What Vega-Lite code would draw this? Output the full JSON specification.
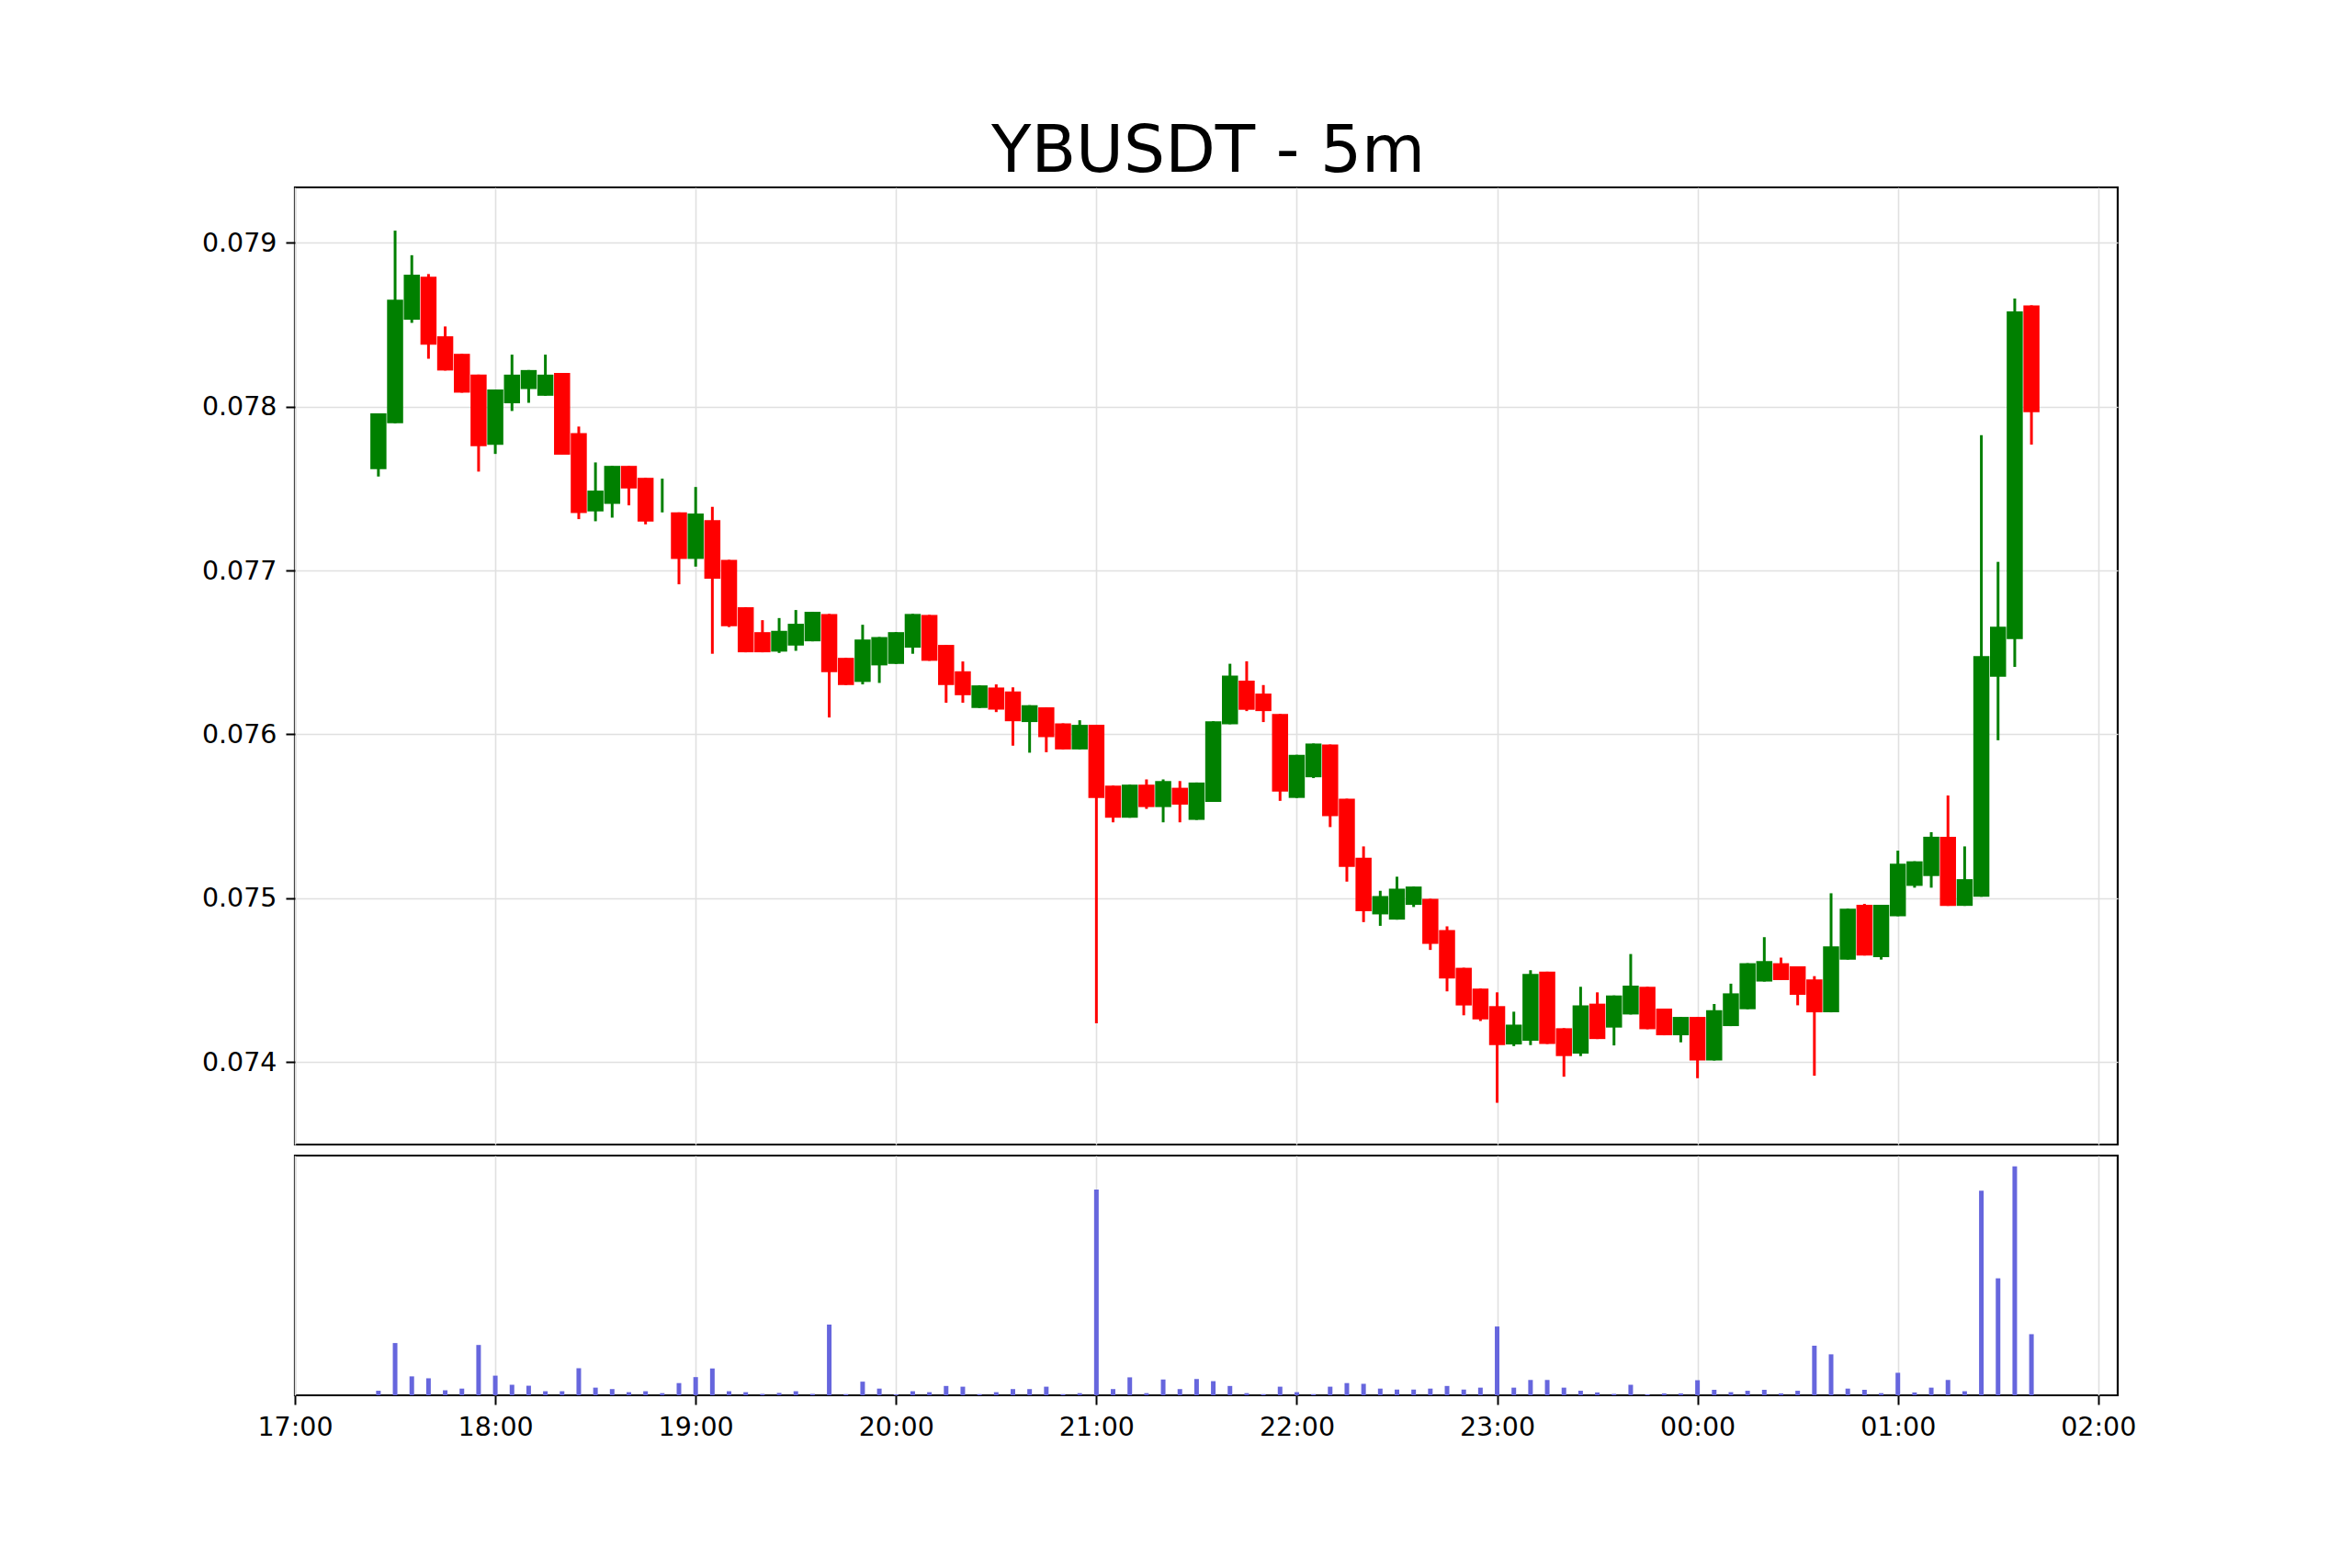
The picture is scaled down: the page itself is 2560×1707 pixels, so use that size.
{
  "$schema": "https://vega.github.io/schema/vega-lite/v6.json",
  "description": "YBUSDT 5m candlesticks with volume panel",
  "padding": {"left": 218, "top": 129, "right": 10, "bottom": 10},
  "title": {
    "text": "YBUSDT - 5m",
    "font": "DejaVu Sans",
    "fontSize": 71,
    "fontWeight": "normal",
    "color": "black",
    "anchor": "middle",
    "offset": 1,
    "dx": 43
  },
  "data": {
    "values": [
      {"t": "2023-01-01T17:25", "o": 0.077619, "h": 0.077959, "l": 0.077574, "c": 0.077959, "v": 1.9},
      {"t": "2023-01-01T17:30", "o": 0.077899, "h": 0.079075, "l": 0.077899, "c": 0.078654, "v": 21.8},
      {"t": "2023-01-01T17:35", "o": 0.078531, "h": 0.078925, "l": 0.078512, "c": 0.078806, "v": 7.9},
      {"t": "2023-01-01T17:40", "o": 0.078794, "h": 0.07881, "l": 0.078293, "c": 0.078379, "v": 7.1},
      {"t": "2023-01-01T17:45", "o": 0.07843, "h": 0.07849, "l": 0.078221, "c": 0.078221, "v": 2.1},
      {"t": "2023-01-01T17:50", "o": 0.078323, "h": 0.078323, "l": 0.078086, "c": 0.078086, "v": 2.8},
      {"t": "2023-01-01T17:55", "o": 0.078196, "h": 0.078196, "l": 0.077604, "c": 0.077759, "v": 21.0},
      {"t": "2023-01-01T18:00", "o": 0.077768, "h": 0.078105, "l": 0.077712, "c": 0.078105, "v": 8.2},
      {"t": "2023-01-01T18:05", "o": 0.078021, "h": 0.078318, "l": 0.077974, "c": 0.078196, "v": 4.4},
      {"t": "2023-01-01T18:10", "o": 0.078108, "h": 0.078224, "l": 0.078024, "c": 0.078224, "v": 4.0},
      {"t": "2023-01-01T18:15", "o": 0.078067, "h": 0.078318, "l": 0.078067, "c": 0.078196, "v": 1.7},
      {"t": "2023-01-01T18:20", "o": 0.078206, "h": 0.078206, "l": 0.077707, "c": 0.077707, "v": 1.7},
      {"t": "2023-01-01T18:25", "o": 0.077839, "h": 0.077879, "l": 0.077314, "c": 0.077351, "v": 11.3},
      {"t": "2023-01-01T18:30", "o": 0.077361, "h": 0.07766, "l": 0.077301, "c": 0.077488, "v": 3.2},
      {"t": "2023-01-01T18:35", "o": 0.077407, "h": 0.077639, "l": 0.077323, "c": 0.077639, "v": 2.6},
      {"t": "2023-01-01T18:40", "o": 0.077639, "h": 0.077639, "l": 0.077398, "c": 0.077501, "v": 1.3},
      {"t": "2023-01-01T18:45", "o": 0.077566, "h": 0.077566, "l": 0.077282, "c": 0.077299, "v": 1.7},
      {"t": "2023-01-01T18:50", "o": 0.07736, "h": 0.077561, "l": 0.077355, "c": 0.07736, "v": 0.9},
      {"t": "2023-01-01T18:55", "o": 0.077355, "h": 0.077355, "l": 0.076916, "c": 0.077071, "v": 5.1},
      {"t": "2023-01-01T19:00", "o": 0.077071, "h": 0.07751, "l": 0.077024, "c": 0.077348, "v": 7.6},
      {"t": "2023-01-01T19:05", "o": 0.077308, "h": 0.077389, "l": 0.076492, "c": 0.07695, "v": 11.2},
      {"t": "2023-01-01T19:10", "o": 0.077065, "h": 0.077065, "l": 0.076655, "c": 0.07666, "v": 1.7},
      {"t": "2023-01-01T19:15", "o": 0.076776, "h": 0.076776, "l": 0.076501, "c": 0.076501, "v": 1.3},
      {"t": "2023-01-01T19:20", "o": 0.076624, "h": 0.076697, "l": 0.076501, "c": 0.076501, "v": 0.6},
      {"t": "2023-01-01T19:25", "o": 0.076505, "h": 0.07671, "l": 0.076497, "c": 0.076632, "v": 1.0},
      {"t": "2023-01-01T19:30", "o": 0.076542, "h": 0.076759, "l": 0.07651, "c": 0.076675, "v": 1.7},
      {"t": "2023-01-01T19:35", "o": 0.076568, "h": 0.076748, "l": 0.076568, "c": 0.076748, "v": 0.6},
      {"t": "2023-01-01T19:40", "o": 0.076735, "h": 0.076735, "l": 0.076103, "c": 0.076379, "v": 29.5},
      {"t": "2023-01-01T19:45", "o": 0.076467, "h": 0.076467, "l": 0.076301, "c": 0.076301, "v": 0.5},
      {"t": "2023-01-01T19:50", "o": 0.07632, "h": 0.076669, "l": 0.076305, "c": 0.076579, "v": 5.7},
      {"t": "2023-01-01T19:55", "o": 0.076421, "h": 0.076594, "l": 0.076314, "c": 0.076594, "v": 2.8},
      {"t": "2023-01-01T20:00", "o": 0.07643, "h": 0.076624, "l": 0.07643, "c": 0.076624, "v": 0.4},
      {"t": "2023-01-01T20:05", "o": 0.076529, "h": 0.076735, "l": 0.076492, "c": 0.076735, "v": 1.7},
      {"t": "2023-01-01T20:10", "o": 0.076729, "h": 0.076729, "l": 0.076449, "c": 0.076449, "v": 1.3},
      {"t": "2023-01-01T20:15", "o": 0.076546, "h": 0.076546, "l": 0.076193, "c": 0.076301, "v": 3.9},
      {"t": "2023-01-01T20:20", "o": 0.076385, "h": 0.076445, "l": 0.076193, "c": 0.076239, "v": 3.6},
      {"t": "2023-01-01T20:25", "o": 0.076161, "h": 0.076299, "l": 0.076161, "c": 0.076299, "v": 0.5},
      {"t": "2023-01-01T20:30", "o": 0.076286, "h": 0.076305, "l": 0.076136, "c": 0.076151, "v": 1.3},
      {"t": "2023-01-01T20:35", "o": 0.076262, "h": 0.076287, "l": 0.075931, "c": 0.07608, "v": 2.6},
      {"t": "2023-01-01T20:40", "o": 0.076075, "h": 0.076178, "l": 0.075888, "c": 0.076178, "v": 2.6},
      {"t": "2023-01-01T20:45", "o": 0.076165, "h": 0.076165, "l": 0.075891, "c": 0.075983, "v": 3.6},
      {"t": "2023-01-01T20:50", "o": 0.076067, "h": 0.076067, "l": 0.075908, "c": 0.075908, "v": 0.5},
      {"t": "2023-01-01T20:55", "o": 0.075908, "h": 0.076086, "l": 0.075908, "c": 0.076058, "v": 0.9},
      {"t": "2023-01-01T21:00", "o": 0.076058, "h": 0.076058, "l": 0.074236, "c": 0.075612, "v": 85.8},
      {"t": "2023-01-01T21:05", "o": 0.075687, "h": 0.075687, "l": 0.075463, "c": 0.075491, "v": 2.6},
      {"t": "2023-01-01T21:10", "o": 0.075491, "h": 0.075693, "l": 0.075491, "c": 0.075693, "v": 7.5},
      {"t": "2023-01-01T21:15", "o": 0.075693, "h": 0.075725, "l": 0.075545, "c": 0.075556, "v": 0.9},
      {"t": "2023-01-01T21:20", "o": 0.075556, "h": 0.075725, "l": 0.075463, "c": 0.075715, "v": 6.6},
      {"t": "2023-01-01T21:25", "o": 0.075674, "h": 0.075715, "l": 0.075463, "c": 0.075571, "v": 2.6},
      {"t": "2023-01-01T21:30", "o": 0.075478, "h": 0.075706, "l": 0.075478, "c": 0.075706, "v": 6.8},
      {"t": "2023-01-01T21:35", "o": 0.075588, "h": 0.07608, "l": 0.075588, "c": 0.07608, "v": 5.9},
      {"t": "2023-01-01T21:40", "o": 0.076062, "h": 0.076431, "l": 0.076062, "c": 0.076358, "v": 3.9},
      {"t": "2023-01-01T21:45", "o": 0.076328, "h": 0.076446, "l": 0.076142, "c": 0.07615, "v": 0.9},
      {"t": "2023-01-01T21:50", "o": 0.076249, "h": 0.076301, "l": 0.076075, "c": 0.076142, "v": 0.5},
      {"t": "2023-01-01T21:55", "o": 0.076124, "h": 0.076124, "l": 0.075594, "c": 0.07565, "v": 3.6},
      {"t": "2023-01-01T22:00", "o": 0.075612, "h": 0.075875, "l": 0.075612, "c": 0.075875, "v": 1.3},
      {"t": "2023-01-01T22:05", "o": 0.075738, "h": 0.075944, "l": 0.075733, "c": 0.075944, "v": 0.5},
      {"t": "2023-01-01T22:10", "o": 0.075938, "h": 0.075938, "l": 0.075434, "c": 0.0755, "v": 3.6},
      {"t": "2023-01-01T22:15", "o": 0.075607, "h": 0.075607, "l": 0.075101, "c": 0.075191, "v": 5.1},
      {"t": "2023-01-01T22:20", "o": 0.075247, "h": 0.075316, "l": 0.074854, "c": 0.07492, "v": 4.8},
      {"t": "2023-01-01T22:25", "o": 0.074901, "h": 0.075045, "l": 0.074831, "c": 0.075013, "v": 2.8},
      {"t": "2023-01-01T22:30", "o": 0.074869, "h": 0.075131, "l": 0.074869, "c": 0.075058, "v": 2.4},
      {"t": "2023-01-01T22:35", "o": 0.074959, "h": 0.075071, "l": 0.074946, "c": 0.075071, "v": 2.4},
      {"t": "2023-01-01T22:40", "o": 0.074996, "h": 0.074996, "l": 0.074684, "c": 0.074721, "v": 2.8},
      {"t": "2023-01-01T22:45", "o": 0.074805, "h": 0.074828, "l": 0.074431, "c": 0.074509, "v": 3.9},
      {"t": "2023-01-01T22:50", "o": 0.074575, "h": 0.074575, "l": 0.074285, "c": 0.074345, "v": 2.4},
      {"t": "2023-01-01T22:55", "o": 0.074448, "h": 0.074448, "l": 0.07425, "c": 0.07426, "v": 3.2},
      {"t": "2023-01-01T23:00", "o": 0.074341, "h": 0.074425, "l": 0.073751, "c": 0.074103, "v": 28.7},
      {"t": "2023-01-01T23:05", "o": 0.074107, "h": 0.074307, "l": 0.074097, "c": 0.074228, "v": 3.2},
      {"t": "2023-01-01T23:10", "o": 0.074129, "h": 0.07456, "l": 0.074103, "c": 0.074537, "v": 6.4},
      {"t": "2023-01-01T23:15", "o": 0.074551, "h": 0.074551, "l": 0.07411, "c": 0.07411, "v": 6.4},
      {"t": "2023-01-01T23:20", "o": 0.074206, "h": 0.074206, "l": 0.07391, "c": 0.074036, "v": 3.2},
      {"t": "2023-01-01T23:25", "o": 0.074051, "h": 0.074459, "l": 0.074036, "c": 0.074346, "v": 1.9},
      {"t": "2023-01-01T23:30", "o": 0.074356, "h": 0.074425, "l": 0.07414, "c": 0.07414, "v": 1.2},
      {"t": "2023-01-01T23:35", "o": 0.07421, "h": 0.074406, "l": 0.074101, "c": 0.074406, "v": 0.6},
      {"t": "2023-01-01T23:40", "o": 0.07429, "h": 0.074659, "l": 0.07429, "c": 0.074466, "v": 4.4},
      {"t": "2023-01-01T23:45", "o": 0.074459, "h": 0.074459, "l": 0.0742, "c": 0.0742, "v": 0.4},
      {"t": "2023-01-01T23:50", "o": 0.074326, "h": 0.074326, "l": 0.074163, "c": 0.074163, "v": 0.8},
      {"t": "2023-01-01T23:55", "o": 0.074163, "h": 0.074275, "l": 0.07412, "c": 0.074275, "v": 0.8},
      {"t": "2023-01-02T00:00", "o": 0.074275, "h": 0.074275, "l": 0.073901, "c": 0.074009, "v": 6.3},
      {"t": "2023-01-02T00:05", "o": 0.074009, "h": 0.074354, "l": 0.074009, "c": 0.074316, "v": 2.3},
      {"t": "2023-01-02T00:10", "o": 0.074219, "h": 0.074478, "l": 0.074219, "c": 0.074419, "v": 1.3},
      {"t": "2023-01-02T00:15", "o": 0.074322, "h": 0.074603, "l": 0.074322, "c": 0.074603, "v": 1.9},
      {"t": "2023-01-02T00:20", "o": 0.074491, "h": 0.074762, "l": 0.074491, "c": 0.074616, "v": 2.3},
      {"t": "2023-01-02T00:25", "o": 0.074603, "h": 0.074637, "l": 0.0745, "c": 0.0745, "v": 0.8},
      {"t": "2023-01-02T00:30", "o": 0.074584, "h": 0.074584, "l": 0.074346, "c": 0.07441, "v": 1.9},
      {"t": "2023-01-02T00:35", "o": 0.074504, "h": 0.074524, "l": 0.073916, "c": 0.074303, "v": 20.7},
      {"t": "2023-01-02T00:40", "o": 0.074303, "h": 0.07503, "l": 0.074303, "c": 0.074706, "v": 17.1},
      {"t": "2023-01-02T00:45", "o": 0.074625, "h": 0.074936, "l": 0.074625, "c": 0.074936, "v": 2.8},
      {"t": "2023-01-02T00:50", "o": 0.074959, "h": 0.074965, "l": 0.07465, "c": 0.07465, "v": 2.3},
      {"t": "2023-01-02T00:55", "o": 0.07464, "h": 0.074959, "l": 0.074625, "c": 0.074959, "v": 0.9},
      {"t": "2023-01-02T01:00", "o": 0.07489, "h": 0.07529, "l": 0.07489, "c": 0.07521, "v": 9.4},
      {"t": "2023-01-02T01:05", "o": 0.075075, "h": 0.075225, "l": 0.075064, "c": 0.075225, "v": 1.2},
      {"t": "2023-01-02T01:10", "o": 0.075135, "h": 0.075403, "l": 0.075064, "c": 0.075375, "v": 3.2},
      {"t": "2023-01-02T01:15", "o": 0.075375, "h": 0.075627, "l": 0.074953, "c": 0.074953, "v": 6.4},
      {"t": "2023-01-02T01:20", "o": 0.074953, "h": 0.075316, "l": 0.074953, "c": 0.075116, "v": 1.7},
      {"t": "2023-01-02T01:25", "o": 0.075009, "h": 0.077827, "l": 0.075009, "c": 0.076478, "v": 85.3},
      {"t": "2023-01-02T01:30", "o": 0.076352, "h": 0.077053, "l": 0.075964, "c": 0.076657, "v": 48.8},
      {"t": "2023-01-02T01:35", "o": 0.076582, "h": 0.07866, "l": 0.076412, "c": 0.078582, "v": 95.5},
      {"t": "2023-01-02T01:40", "o": 0.078619, "h": 0.078619, "l": 0.077769, "c": 0.077966, "v": 25.5}
    ]
  },
  "spacing": 8,
  "vconcat": [
    {
      "width": 1984,
      "height": 1042,
      "layer": [
        {
          "mark": {"type": "rule", "strokeWidth": 3},
          "encoding": {
            "x": {
              "field": "t",
              "type": "temporal",
              "scale": {
                "padding": 0,
                "domain": [
                  {"year": 2023, "month": 1, "date": 1, "hours": 17, "minutes": 0, "seconds": 0},
                  {"year": 2023, "month": 1, "date": 2, "hours": 2, "minutes": 5, "seconds": 50}
                ]
              },
              "axis": {
                "labels": false,
                "ticks": false,
                "domain": false,
                "title": null,
                "grid": true,
                "values": [
                  {"year": 2023, "month": 1, "date": 1, "hours": 17},
                  {"year": 2023, "month": 1, "date": 1, "hours": 18},
                  {"year": 2023, "month": 1, "date": 1, "hours": 19},
                  {"year": 2023, "month": 1, "date": 1, "hours": 20},
                  {"year": 2023, "month": 1, "date": 1, "hours": 21},
                  {"year": 2023, "month": 1, "date": 1, "hours": 22},
                  {"year": 2023, "month": 1, "date": 1, "hours": 23},
                  {"year": 2023, "month": 1, "date": 2, "hours": 0},
                  {"year": 2023, "month": 1, "date": 2, "hours": 1},
                  {"year": 2023, "month": 1, "date": 2, "hours": 2}
                ]
              }
            },
            "y": {
              "field": "l",
              "type": "quantitative",
              "scale": {"domain": [0.073496, 0.079339], "zero": false, "nice": false},
              "axis": {
                "title": null,
                "values": [0.074, 0.075, 0.076, 0.077, 0.078, 0.079],
                "format": ".3f",
                "grid": true,
                "domain": false
              }
            },
            "y2": {"field": "h"},
            "color": {
              "condition": {"test": "datum.c >= datum.o", "value": "#008000"},
              "value": "#ff0000"
            }
          }
        },
        {
          "mark": {"type": "bar", "width": 17.5},
          "encoding": {
            "x": {"field": "t", "type": "temporal"},
            "y": {"field": "o", "type": "quantitative"},
            "y2": {"field": "c"},
            "color": {
              "condition": {"test": "datum.c >= datum.o", "value": "#008000"},
              "value": "#ff0000"
            }
          }
        }
      ]
    },
    {
      "width": 1984,
      "height": 261,
      "mark": {"type": "bar", "width": 5, "color": "#6666dd"},
      "encoding": {
        "x": {
          "field": "t",
          "type": "temporal",
          "scale": {
            "padding": 0,
            "domain": [
              {"year": 2023, "month": 1, "date": 1, "hours": 17, "minutes": 0, "seconds": 0},
              {"year": 2023, "month": 1, "date": 2, "hours": 2, "minutes": 5, "seconds": 50}
            ]
          },
          "axis": {
            "title": null,
            "format": "%H:%M",
            "grid": true,
            "domain": false,
            "labelFlush": false,
            "labelOverlap": false,
            "values": [
              {"year": 2023, "month": 1, "date": 1, "hours": 17},
              {"year": 2023, "month": 1, "date": 1, "hours": 18},
              {"year": 2023, "month": 1, "date": 1, "hours": 19},
              {"year": 2023, "month": 1, "date": 1, "hours": 20},
              {"year": 2023, "month": 1, "date": 1, "hours": 21},
              {"year": 2023, "month": 1, "date": 1, "hours": 22},
              {"year": 2023, "month": 1, "date": 1, "hours": 23},
              {"year": 2023, "month": 1, "date": 2, "hours": 0},
              {"year": 2023, "month": 1, "date": 2, "hours": 1},
              {"year": 2023, "month": 1, "date": 2, "hours": 2}
            ]
          }
        },
        "y": {
          "field": "v",
          "type": "quantitative",
          "scale": {"domain": [0, 100], "nice": false},
          "axis": null
        }
      }
    }
  ],
  "config": {
    "font": "DejaVu Sans",
    "view": {"stroke": "black", "strokeWidth": 2.2},
    "axis": {
      "labelFont": "DejaVu Sans",
      "labelFontSize": 28.5,
      "labelColor": "black",
      "tickColor": "black",
      "tickSize": 10,
      "tickWidth": 2,
      "labelPadding": 10,
      "gridColor": "#e0e0e0",
      "gridWidth": 1.6
    }
  }
}
